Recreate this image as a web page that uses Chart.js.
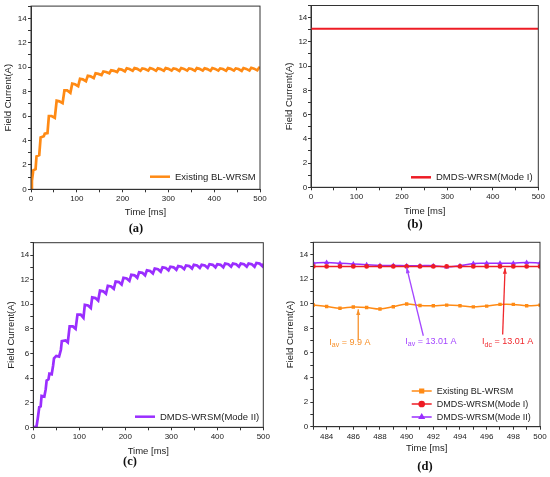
<!DOCTYPE html>
<html>
<head>
<meta charset="utf-8">
<script src="https://cdn.jsdelivr.net/npm/chart.js@4.4.0/dist/chart.umd.min.js"></script>
<style>
  html, body { margin: 0; padding: 0; background: #fff; }
  #wrap { position: relative; width: 550px; height: 477px; overflow: hidden; }
  .panel { position: absolute; }
  .tag { position: absolute; font: bold 12.5px "Liberation Serif", "Times New Roman", serif; color: #111; transform: translate(-50%, -50%); }
</style>
</head>
<body>
<div id="wrap">
  <div class="panel" style="left:0;top:0"><canvas id="chartA" width="275" height="220"></canvas></div>
  <div class="panel" style="left:275px;top:0"><canvas id="chartB" width="275" height="220"></canvas></div>
  <div class="panel" style="left:0;top:235px"><canvas id="chartC" width="275" height="225"></canvas></div>
  <div class="panel" style="left:275px;top:235px"><canvas id="chartD" width="275" height="225"></canvas></div>
  <div class="tag" style="left:136px;top:228px">(a)</div>
  <div class="tag" style="left:415px;top:224px">(b)</div>
  <div class="tag" style="left:130px;top:461px">(c)</div>
  <div class="tag" style="left:425px;top:466px">(d)</div>
</div>
<script>
// ---- data ----
const xTickLabels = [0, 100, 200, 300, 400, 500];
const xTickLabelsD = [484, 486, 488, 490, 492, 494, 496, 498, 500];
const yTickLabels = [0, 2, 4, 6, 8, 10, 12, 14];

// (a) existing BL-WRSM, full start-up
const timeA = [0, 2, 5, 10, 12, 18, 21, 28, 30, 36, 39, 45, 52, 56, 62, 69, 73, 79, 86, 90, 96, 103,
  107, 113, 120, 124, 130, 137, 141, 147, 154, 158, 164, 171, 175, 181, 188, 192, 198, 205, 209, 215, 222,
  226, 232, 239, 243, 249, 256, 260, 266, 273, 277, 283, 290, 294, 300, 307, 311, 317, 324, 328, 334, 341,
  345, 351, 358, 362, 368, 375, 379, 385, 392, 396, 402, 409, 413, 419, 426, 430, 436, 443, 447, 453, 460,
  464, 470, 477, 481, 487, 494, 498, 500];
const currentA = [0, 0.7, 1.55, 1.65, 2.7, 2.8, 4.25, 4.35, 4.55, 4.6, 6.0, 6.0, 5.85, 7.25, 7.2, 7.05, 8.1, 8.1, 7.9, 8.65, 8.6, 8.45,
  9.05, 9.0, 8.85, 9.3, 9.25, 9.1, 9.5, 9.45, 9.35, 9.65, 9.6, 9.5, 9.75, 9.7, 9.6, 9.85, 9.8, 9.65, 9.9, 9.85, 9.7,
  9.92, 9.86, 9.7, 9.9, 9.85, 9.72, 9.93, 9.86, 9.7, 9.9, 9.84, 9.7, 9.92, 9.86, 9.72, 9.9, 9.85, 9.7,
  9.93, 9.86, 9.72, 9.9, 9.85, 9.7, 9.92, 9.86, 9.72, 9.9, 9.84, 9.7, 9.93, 9.86, 9.72, 9.9, 9.85, 9.7,
  9.92, 9.86, 9.72, 9.9, 9.85, 9.7, 9.93, 9.86, 9.72, 9.95, 9.88, 9.74, 9.95, 9.93];

// (b) DMDS-WRSM mode I, constant dc field current
const timeB = [0, 500];
const currentB = [13.08, 13.08];

// (c) DMDS-WRSM mode II, full start-up
const timeC = [0, 7, 10, 13, 16, 18, 24, 27, 29, 33, 35, 40, 43, 45, 50, 56, 60, 62, 70, 75, 79, 86, 92,
  96, 103, 109, 112, 119, 125, 128, 135, 141, 145, 152, 158, 162, 169, 175, 179, 186, 192, 196, 203, 209,
  213, 220, 226, 230, 237, 243, 247, 254, 260, 264, 271, 277, 281, 288, 294, 298, 305, 311, 315, 322, 328,
  332, 339, 345, 349, 356, 362, 366, 373, 379, 383, 390, 396, 400, 407, 413, 417, 424, 430, 434, 441, 447,
  451, 458, 464, 468, 475, 481, 485, 492, 498, 500];
const currentC = [0, 0.05, 0.8, 1.65, 1.7, 2.55, 2.5, 3.1, 3.8, 3.9, 4.35, 4.3, 5.0, 5.6, 5.8, 5.75, 6.3, 7.0, 7.05, 6.9, 8.2, 8.2, 8.0,
  9.15, 9.15, 8.9, 9.95, 9.9, 9.7, 10.55, 10.5, 10.3, 11.1, 11.05, 10.85, 11.5, 11.45, 11.25, 11.85, 11.8, 11.6, 12.15, 12.1, 11.9,
  12.4, 12.35, 12.15, 12.6, 12.55, 12.35, 12.75, 12.7, 12.5, 12.9, 12.85, 12.65, 13.0, 12.95, 12.75, 13.05, 13.0, 12.8, 13.1, 13.05, 12.85,
  13.15, 13.1, 12.9, 13.2, 13.15, 12.95, 13.2, 13.15, 12.95, 13.25, 13.2, 13.0, 13.25, 13.2, 13.0, 13.3, 13.25, 13.05, 13.3, 13.25, 13.05,
  13.3, 13.25, 13.05, 13.3, 13.25, 13.05, 13.35, 13.3, 13.1, 13.3];

// (d) zoom on the last 17 ms, all three cases
const timeD = [483, 484, 485, 486, 487, 488, 489, 490, 491, 492, 493, 494, 495, 496, 497, 498, 499, 500];
const existingD = [9.9, 9.78, 9.64, 9.74, 9.7, 9.57, 9.76, 9.98, 9.86, 9.84, 9.89, 9.84, 9.75, 9.81, 9.95, 9.95, 9.84, 9.89];
const modeOneD = [13.04, 13.04, 13.04, 13.04, 13.04, 13.04, 13.04, 13.04, 13.04, 13.04, 13.04, 13.04, 13.04, 13.04, 13.04, 13.04, 13.04, 13.04];
const modeTwoD = [13.32, 13.36, 13.3, 13.24, 13.18, 13.12, 13.12, 13.1, 13.1, 13.1, 12.99, 13.1, 13.28, 13.3, 13.3, 13.3, 13.36, 13.32];

const ORANGE = "#FF8A14";
const RED = "#EE1C25";
const PURPLE = "#9A2EFF";
const AXIS = "#333";
const TXT = "#222";
const FONT = "'Liberation Sans', Arial, sans-serif";

function pts(xs, ys) {
  return xs.map((x, i) => ({ x: x, y: ys[i] }));
}

// box around the plot area (Origin style)
const frame = {
  id: "frame",
  afterDatasetsDraw(chart) {
    const ctx = chart.ctx, a = chart.chartArea;
    ctx.save();
    ctx.strokeStyle = AXIS;
    ctx.lineWidth = 1;
    ctx.strokeRect(a.left, a.top, a.right - a.left, a.bottom - a.top);
    ctx.restore();
  }
};

// legend drawn inside the plot, bottom right
function insideLegend(x, y, rowH, markers, size) {
  return {
    id: "insideLegend",
    afterDraw(chart) {
      const ctx = chart.ctx;
      ctx.save();
      ctx.font = size + "px " + FONT;
      ctx.textBaseline = "middle";
      chart.data.datasets.forEach((ds, i) => {
        const yy = y + i * rowH;
        ctx.strokeStyle = ds.borderColor;
        ctx.lineWidth = markers ? 1.5 : 2.5;
        ctx.beginPath();
        ctx.moveTo(x, yy);
        ctx.lineTo(x + 20, yy);
        ctx.stroke();
        if (markers) {
          ctx.fillStyle = ds.borderColor;
          Chart.helpers.drawPoint(ctx, { pointStyle: ds.pointStyle, radius: 2.6, rotation: 0, borderWidth: 1 }, x + 10, yy);
        }
        ctx.fillStyle = TXT;
        ctx.fillText(ds.label, x + 25, yy + 0.5);
      });
      ctx.restore();
    }
  };
}

// arrows + average-value notes of panel (d)
const notesD = [
  { color: "#F7912B", main: "I", sub: "av", rest: " = 9.9 A", tx: 484.2, ty: 6.85, from: [486.37, 7.05], to: [486.37, 9.55] },
  { color: "#A447FF", main: "I", sub: "av", rest: " = 13.01 A", tx: 489.9, ty: 6.95, from: [491.25, 7.4], to: [490.0, 12.95] },
  { color: "#F0282D", main: "I", sub: "dc", rest: " = 13.01 A", tx: 495.65, ty: 6.9, from: [497.2, 7.5], to: [497.38, 12.9] }
];
const notes = {
  id: "notes",
  afterDraw(chart) {
    const ctx = chart.ctx, sx = chart.scales.x, sy = chart.scales.y;
    ctx.save();
    notesD.forEach(n => {
      const x1 = sx.getPixelForValue(n.from[0]), y1 = sy.getPixelForValue(n.from[1]);
      const x2 = sx.getPixelForValue(n.to[0]), y2 = sy.getPixelForValue(n.to[1]);
      ctx.strokeStyle = n.color;
      ctx.fillStyle = n.color;
      ctx.lineWidth = 1.3;
      ctx.beginPath();
      ctx.moveTo(x1, y1);
      ctx.lineTo(x2, y2);
      ctx.stroke();
      const ang = Math.atan2(y2 - y1, x2 - x1);
      ctx.beginPath();
      ctx.moveTo(x2, y2);
      ctx.lineTo(x2 - 6 * Math.cos(ang - 0.35), y2 - 6 * Math.sin(ang - 0.35));
      ctx.lineTo(x2 - 6 * Math.cos(ang + 0.35), y2 - 6 * Math.sin(ang + 0.35));
      ctx.closePath();
      ctx.fill();
      // label with subscript
      let tx = sx.getPixelForValue(n.tx);
      const ty = sy.getPixelForValue(n.ty);
      ctx.textBaseline = "middle";
      ctx.font = "9px " + FONT;
      ctx.fillText(n.main, tx, ty);
      tx += ctx.measureText(n.main).width;
      ctx.font = "7px " + FONT;
      ctx.fillText(n.sub, tx, ty + 3);
      tx += ctx.measureText(n.sub).width;
      ctx.font = "9px " + FONT;
      ctx.fillText(n.rest, tx, ty);
    });
    ctx.restore();
  }
};

function options(p) {
  return {
    responsive: false,
    animation: false,
    layout: { padding: { left: 0, top: p.top, right: p.right, bottom: 0 } },
    plugins: { legend: { display: false }, tooltip: { enabled: false } },
    elements: { point: { radius: 0 }, line: { borderWidth: 2.7, tension: 0 } },
    scales: {
      x: {
        type: "linear",
        min: p.xMin,
        max: p.xMax,
        afterFit: s => { s.height = p.xH; },
        border: { color: AXIS, width: 1 },
        grid: { drawOnChartArea: false, tickLength: 3, color: AXIS },
        ticks: {
          stepSize: p.xStep, autoSkip: false, maxRotation: 0, padding: 2, color: TXT,
          font: { size: 8, family: FONT },
          callback: v => p.xLabels.includes(v) ? String(v) : ""
        },
        title: { display: true, text: "Time [ms]", color: TXT, font: { size: 9.5, family: FONT }, padding: { top: 0, bottom: p.xTitlePad } }
      },
      y: {
        min: 0,
        max: 15,
        afterFit: s => { s.width = p.yW; },
        border: { color: AXIS, width: 1 },
        grid: { drawOnChartArea: false, tickLength: 3, color: AXIS },
        ticks: {
          stepSize: 1, autoSkip: false, padding: p.yTickPad, color: TXT,
          font: { size: 8, family: FONT },
          callback: v => yTickLabels.includes(v) ? String(v) : ""
        },
        title: { display: true, text: "Field Current(A)", color: TXT, font: { size: 9.5, family: FONT }, padding: { top: p.yTitlePad, bottom: 0 } }
      }
    }
  };
}

new Chart(document.getElementById("chartA"), {
  type: "line",
  data: { datasets: [{ label: "Existing BL-WRSM", data: pts(timeA, currentA), borderColor: ORANGE }] },
  options: options({ top: 5, right: 15, xMin: 0, xMax: 500, xStep: 50, xLabels: xTickLabels, xH: 30.7, xTitlePad: 2.3, yW: 31, yTickPad: 1.3, yTitlePad: 2.3 }),
  plugins: [frame, insideLegend(150, 176.7, 13, false, 9.5)]
});

new Chart(document.getElementById("chartB"), {
  type: "line",
  data: { datasets: [{ label: "DMDS-WRSM(Mode I)", data: pts(timeB, currentB), borderColor: RED, borderWidth: 2 }] },
  options: options({ top: 4.5, right: 11.7, xMin: 0, xMax: 500, xStep: 50, xLabels: xTickLabels, xH: 32.7, xTitlePad: 3.3, yW: 36, yTickPad: 0.7, yTitlePad: 9 }),
  plugins: [frame, insideLegend(136, 177.3, 13, false, 9.5)]
});

new Chart(document.getElementById("chartC"), {
  type: "line",
  data: { datasets: [{ label: "DMDS-WRSM(Mode II)", data: pts(timeC, currentC), borderColor: PURPLE }] },
  options: options({ top: 7.7, right: 11.7, xMin: 0, xMax: 500, xStep: 50, xLabels: xTickLabels, xH: 32.7, xTitlePad: 3.3, yW: 33.3, yTickPad: 1, yTitlePad: 6 }),
  plugins: [frame, insideLegend(135, 181.7, 13, false, 9.5)]
});

const optD = options({ top: 7.3, right: 10, xMin: 483, xMax: 500, xStep: 1, xLabels: xTickLabelsD, xH: 33.3, xTitlePad: 6, yW: 38.3, yTickPad: 2, yTitlePad: 9.3 });
new Chart(document.getElementById("chartD"), {
  type: "line",
  data: {
    datasets: [
      { label: "Existing BL-WRSM", data: pts(timeD, existingD), borderColor: ORANGE, backgroundColor: ORANGE, borderWidth: 1.5, tension: 0.35, pointStyle: "rect", pointRadius: 2.4, pointBorderWidth: 0 },
      { label: "DMDS-WRSM(Mode I)", data: pts(timeD, modeOneD), borderColor: RED, backgroundColor: RED, borderWidth: 1.5, pointStyle: "circle", pointRadius: 2.4, pointBorderWidth: 0 },
      { label: "DMDS-WRSM(Mode II)", data: pts(timeD, modeTwoD), borderColor: PURPLE, backgroundColor: PURPLE, borderWidth: 1.5, tension: 0.35, pointStyle: "triangle", pointRadius: 3, pointBorderWidth: 0 }
    ]
  },
  options: optD,
  plugins: [frame, insideLegend(136.7, 156, 13, true, 9), notes]
});
</script>
</body>
</html>
